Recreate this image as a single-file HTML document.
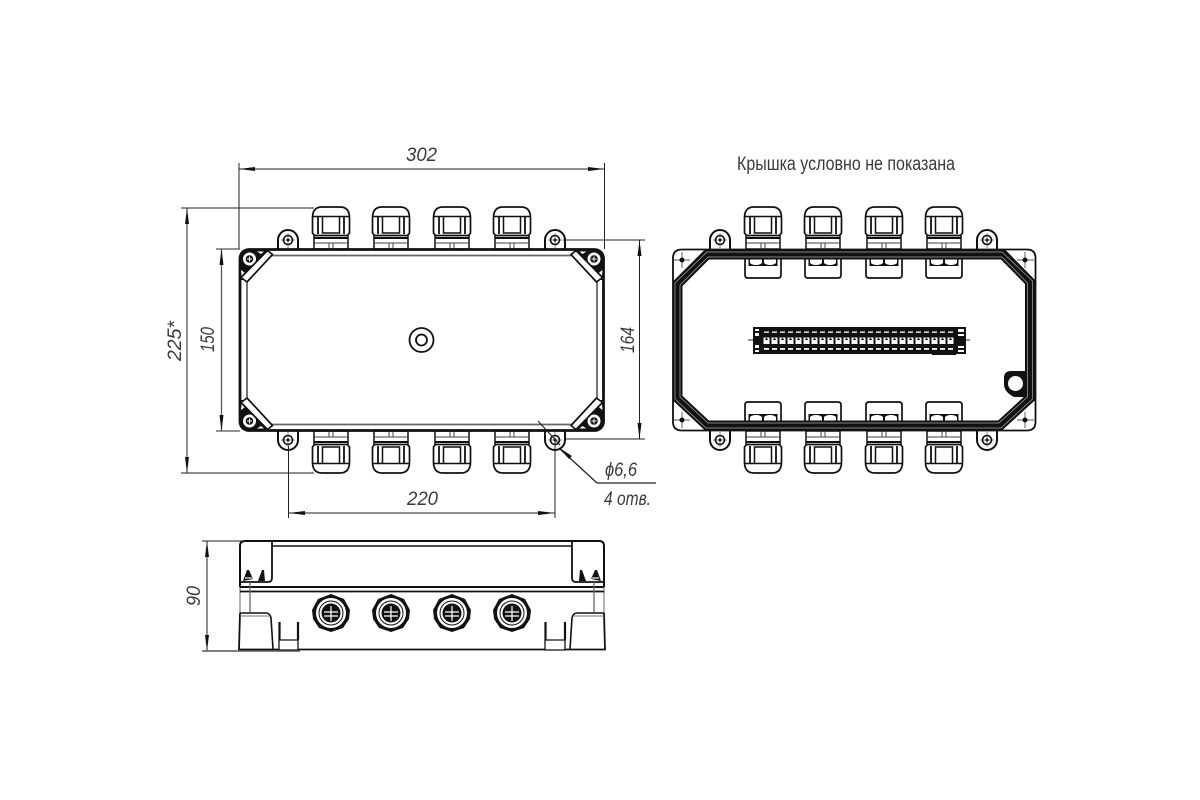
<!DOCTYPE html>
<html><head><meta charset="utf-8"><style>
html,body{margin:0;padding:0;background:#fff}
svg{display:block}
text{font-family:"Liberation Sans","DejaVu Sans",sans-serif;font-style:italic;fill:#3a3a3a;font-size:19px}
</style></head><body>
<svg width="1200" height="800" viewBox="0 0 1200 800" xmlns="http://www.w3.org/2000/svg">
<defs>
<g id="gl" fill="#fff" stroke="#111" stroke-width="2">
<path d="M-17 235 V249 H17 V235 Z" stroke-width="1.500"/>
<path d="M-17 238 H17" stroke-width="2"/>
<path d="M-17 243 H17 M-2 243 V249 M2 243 V249" stroke-width="1" stroke="#444"/>
<path d="M-18.500 218 Q-18.500 207 -9 207 H9 Q18.500 207 18.500 218 V233 L16.500 235.500 H-16.500 L-18.500 233 Z" stroke-width="1.700"/>
<path d="M-18.500 216.500 H18.500" stroke-width="1.400"/>
<path d="M-13 217 V234 M13 217 V234" fill="none" stroke-width="1.800"/>
<path d="M-8.500 217 V233 H8.500 V217" fill="none" stroke-width="1.500"/>
</g>
<g id="ear" fill="#fff" stroke="#111" stroke-width="2">
<path d="M-10 9 V0 A10 10 0 0 1 10 0 V9"/>
<circle r="4.500" stroke-width="1.600"/><circle r="1.500" fill="#111" stroke="none"/>
<path d="M0 -7 V8 M-7 0 H7" stroke-width=".5"/>
</g>
<g id="corner">
<path d="M239 280 V259 Q239 249 249 249 H270 L243 280 Z" fill="#111"/>
<circle cx="249.500" cy="259" r="6.500" fill="#fff"/><circle cx="249.500" cy="259" r="3.800" fill="#111"/>
<path d="M247 259 H252 M249.500 256.500 V261.500" stroke="#fff" stroke-width="1"/>
<path d="M241 270 L245 273 L241.500 276 Z M257 251.500 L261 254 L264 251.500 Z" fill="#fff"/>
<path d="M267.500 250.500 L272.500 254.500 L247 282 L241 277.500 Z" fill="#fff" stroke="#111" stroke-width="1.700" stroke-linejoin="round"/>
</g>
<g id="gr">
<use href="#gl"/>
<path d="M-18 259 V275 Q-18 278 -15 278 H15 Q18 278 18 275 V259" fill="#fff" stroke="#111" stroke-width="1.700"/>
<path d="M-18 249 H18 V259 H14.500 V266 H-14.500 V259 H-18 Z" fill="#111"/>
<path d="M-13 258 H-1 V263 Q-3 265 -7 265 Q-11 265 -13 263 Z M1 258 H13 V263 Q11 265 7 265 Q3 265 1 263 Z" fill="#fff"/>
</g>
<g id="nut">
<path d="M0 -19 L13 -14 L19 -3 L18 6 L12 15 L0 19 L-12 15 L-18 6 L-19 -3 L-13 -14 Z" fill="#111"/>
<circle r="15" fill="#fff"/>
<circle r="12" fill="none" stroke="#111" stroke-width="1"/>
<circle r="9.500" fill="#111"/>
<path d="M-7 -1 H7 M-7 3 H7 M0 -7 V8" stroke="#fff" stroke-width="1.200"/>
</g>
<g id="cell">
<rect x="0.500" y="337.500" width="6" height="6.500" fill="#fff"/>
<path d="M3.500 337.500 L1.800 340 H5.200 Z" fill="#111"/>
<rect x="1" y="331.500" width="5" height="1.300" fill="#fff"/>
<rect x="1" y="348" width="5" height="1.800" fill="#fff"/>
</g>
</defs>

<!-- FRONT VIEW -->
<g>
<use href="#gl" x="331"/><use href="#gl" x="391"/><use href="#gl" x="452"/><use href="#gl" x="512"/>
<g transform="translate(0 680) scale(1 -1)"><use href="#gl" x="331"/><use href="#gl" x="391"/><use href="#gl" x="452"/><use href="#gl" x="512"/></g>
<use href="#ear" x="288" y="240"/><use href="#ear" x="555" y="240"/>
<g transform="translate(288 440) scale(1 -1)"><use href="#ear"/></g>
<g transform="translate(555 440) scale(1 -1)"><use href="#ear"/></g>
<rect x="240" y="249.500" width="363.500" height="181" rx="9" fill="#fff" stroke="#111" stroke-width="2.800"/>
<path d="M247 280 V400 M597 280 V400 M270 255.500 H574 M270 424.500 H574" stroke="#666" stroke-width="1.800" fill="none"/>
<use href="#corner"/>
<use href="#corner" transform="translate(843.500 0) scale(-1 1)"/>
<use href="#corner" transform="translate(0 680) scale(1 -1)"/>
<use href="#corner" transform="translate(843.500 680) scale(-1 -1)"/>
<circle cx="421.500" cy="340" r="12" fill="#fff" stroke="#111" stroke-width="1.800"/>
<circle cx="421.500" cy="340" r="5.500" fill="#fff" stroke="#111" stroke-width="1.800"/>
</g>

<!-- DIMENSIONS -->
<g stroke="#222" stroke-width="1" fill="none">
<path d="M239 163 V249 M604.500 163 V249 M239 169 H604.500"/>
<path d="M181 208 H314 M181 473 H314 M187 208 V473"/>
<path d="M216 249 H240 M216 431 H240 M221.500 249 V431" stroke="#555" stroke-width="1.300"/>
<path d="M563 240 H645 M565 439 H645 M639.500 240 V439"/>
<path d="M288.500 446 V518 M555 440 V518 M288.500 513 H555"/>
<path d="M202 541 H242 M202 651 H300 M207 541 V651"/>
<path d="M538 421 L560 445" stroke-width="1.100"/>
<path d="M560 449 L597 483 H656" stroke-width="1.300"/>
</g>
<g fill="#111">
<path d="M239 169 L255 167 V171 Z M604.500 169 L588 167 V171 Z"/>
<path d="M187 208 L185 224 H189 Z M187 473 L185 457 H189 Z"/>
<path d="M221.500 249 L219.500 265 H223.500 Z M221.500 431 L219.500 415 H223.500 Z"/>
<path d="M639.500 240 L637.500 256 H641.500 Z M639.500 439 L637.500 423 H641.500 Z"/>
<path d="M288.500 513 L305 511 V515 Z M555 513 L538 511 V515 Z"/>
<path d="M207 541 L205 557 H209 Z M207 651 L205 635 H209 Z"/>
<path d="M558 447 L572 456 L569 459 Z"/>
</g>
<text x="406" y="161" textLength="31" lengthAdjust="spacingAndGlyphs">302</text>
<text x="407" y="505" textLength="31" lengthAdjust="spacingAndGlyphs">220</text>
<text transform="translate(181 361) rotate(-90)" textLength="40" lengthAdjust="spacingAndGlyphs">225*</text>
<text transform="translate(214 352) rotate(-90)" textLength="25" lengthAdjust="spacingAndGlyphs">150</text>
<text transform="translate(634 353) rotate(-90)" textLength="26" lengthAdjust="spacingAndGlyphs">164</text>
<text transform="translate(200 606) rotate(-90)" textLength="20" lengthAdjust="spacingAndGlyphs">90</text>
<text x="605" y="476" textLength="32" lengthAdjust="spacingAndGlyphs">ϕ6,6</text>
<text x="604" y="505" textLength="47" lengthAdjust="spacingAndGlyphs">4 отв.</text>
<text x="737" y="170" textLength="218" lengthAdjust="spacingAndGlyphs" style="font-style:normal;font-size:19px">Крышка условно не показана</text>

<!-- RIGHT VIEW -->
<g>
<use href="#gr" x="763"/><use href="#gr" x="823"/><use href="#gr" x="884"/><use href="#gr" x="944"/>
<g transform="translate(0 680) scale(1 -1)"><use href="#gr" x="763"/><use href="#gr" x="823"/><use href="#gr" x="884"/><use href="#gr" x="944"/></g>
<use href="#ear" x="720" y="240"/><use href="#ear" x="987" y="240"/>
<g transform="translate(720 440) scale(1 -1)"><use href="#ear"/></g>
<g transform="translate(987 440) scale(1 -1)"><use href="#ear"/></g>
<path d="M673 258 Q673 249.500 682 249.500 H1027 Q1035.500 249.500 1035.500 258 V422 Q1035.500 430.500 1027 430.500 H682 Q673 430.500 673 422 Z" fill="none" stroke="#111" stroke-width="1.800"/>
<path d="M707 254.500 H1003 L1030 282 V398 L1000 425.500 H707 L677.500 398 V284 Z" fill="none" stroke="#111" stroke-width="10" stroke-linejoin="miter"/>
<path d="M707 252 H1002 L1032.500 281 V399 L1001 428 H706 L675 399 V283 Z" fill="none" stroke="#aaa" stroke-width=".7"/>
<path d="M708 257 H1002 L1027.500 283 V397 L999 423 H708 L680 397 V285 Z" fill="none" stroke="#aaa" stroke-width=".7"/>
<g stroke="#222" stroke-width=".7"><path d="M682 252 V268 M674 260 H690 M1025 412 V428 M1017 420 H1034 M682 412 V428 M674 420 H690 M1025 252 V268 M1017 260 H1034"/></g>
<g fill="#111"><circle cx="682" cy="260" r="2.500"/><circle cx="1025" cy="260" r="2.500"/><circle cx="682" cy="420" r="2.500"/><circle cx="1025" cy="420" r="2.500"/></g>
<path d="M1004 378 Q1004 371 1011 371 H1025 V397 H1014 Q1004 392 1004 384 Z" fill="#111"/>
<circle cx="1015.500" cy="383.500" r="7.500" fill="#fff"/>
<rect x="753" y="327" width="213" height="27" fill="#111"/>
<rect x="932" y="350" width="24" height="5" fill="#111"/>
<path d="M748 340 H753 M966 340 H970" stroke="#222" stroke-width="1"/>
<g fill="#fff">
<rect x="755" y="329" width="4" height="2"/><rect x="755" y="333" width="4" height="3"/><rect x="755" y="345" width="4" height="3"/><rect x="755" y="350" width="4" height="2"/>
<rect x="958" y="329" width="6" height="3"/><rect x="958" y="334" width="6" height="2"/><rect x="958" y="346" width="6" height="2"/><rect x="958" y="350" width="6" height="2"/>
</g>
<circle cx="760" cy="340" r="3.500" fill="#111"/>
<use href="#cell" x="763"/><use href="#cell" x="771"/><use href="#cell" x="779"/><use href="#cell" x="787"/><use href="#cell" x="795"/><use href="#cell" x="803"/><use href="#cell" x="811"/><use href="#cell" x="819"/><use href="#cell" x="827"/><use href="#cell" x="835"/><use href="#cell" x="843"/><use href="#cell" x="851"/><use href="#cell" x="859"/><use href="#cell" x="867"/><use href="#cell" x="875"/><use href="#cell" x="883"/><use href="#cell" x="891"/><use href="#cell" x="899"/><use href="#cell" x="907"/><use href="#cell" x="915"/><use href="#cell" x="923"/><use href="#cell" x="931"/><use href="#cell" x="939"/><use href="#cell" x="947"/>
</g>

<!-- BOTTOM VIEW -->
<g fill="none" stroke="#111" stroke-width="1.800">
<path d="M240 587 V546 Q240 541 245 541 H599 Q604 541 604 546 V587" stroke-width="2"/>
<path d="M240 613 L239 649.500 H605 L604 613" stroke-width="1.800"/>
<path d="M240 587 V613 M604 587 V613" stroke="#666" stroke-width="1"/>
<path d="M272 541 V578 Q272 582 268 582 H240 M572 541 V578 Q572 582 576 582 H604"/>
<path d="M272 546 H572" stroke-width="1.600"/>
<path d="M240 587 H604" stroke-width="2"/><path d="M240 591.500 H604" stroke-width="1.800"/>
<path d="M240 613 H266 Q270 613 271 618 L273 649 M604 613 H577 Q573 613 572 618 L570 649" stroke-width="1.600"/>
<path d="M240 616 H270 M604 616 H574" stroke="#777" stroke-width="1"/>
<path d="M279.500 622 V640 M298 622 V640 M545.500 622 V640 M565 622 V640" stroke-width="2.200"/>
<path d="M279 640 H298 V650 H279 Z M545 640 H565 V650 H545 Z" fill="#fff" stroke-width="1.300"/>
<path d="M250 582 V612 M594 582 V612" stroke="#666" stroke-width="1.300"/>
</g>
<path d="M203 651 H300" stroke="#555" stroke-width="1.500"/>
<g fill="#111">
<path d="M243 581 L247 570 L249 570 L253 579 Z M258 581 L262 570 L264 570 L265 581 Z"/>
<path d="M579 581 L580 570 L582 570 L586 581 Z M591 579 L595 570 L597 570 L601 581 Z"/>
</g>
<rect x="245" y="577" width="8" height="2" fill="#999"/>
<rect x="591" y="577" width="8" height="2" fill="#999"/>
<use href="#nut" x="331" y="613"/><use href="#nut" x="391" y="613"/><use href="#nut" x="452" y="613"/><use href="#nut" x="512" y="613"/>
</svg>
</body></html>
